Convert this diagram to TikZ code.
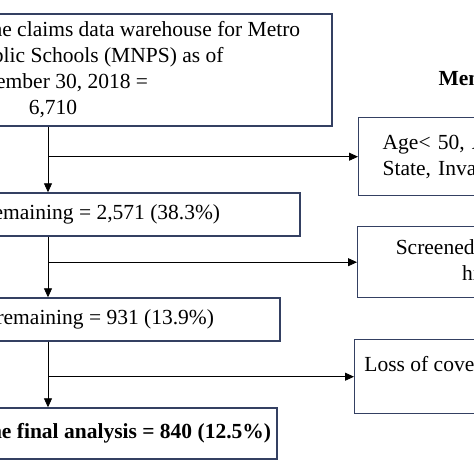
\documentclass[tikz,border=0pt]{standalone}
\usepackage{fontspec}
\setmainfont{Liberation Serif}
\usepackage{tikz}
\usetikzlibrary{arrows.meta, positioning}

\definecolor{boxline}{RGB}{52,64,98}

\tikzset{
    flowbox/.style={draw=boxline, line width=1.4pt, inner sep=0pt, align=center,
        font=\fontsize{21.5}{26}\selectfont},
    flowline/.style={line width=0.8pt, black}
}

\begin{document}
\begin{tikzpicture}[>={Triangle[length=9pt,width=8pt]}, x=1pt, y=-1pt]
    % Cadre de l'image
    \useasboundingbox (0,0) rectangle (474,474);
    \clip (0,0) rectangle (474,474);

    % Colonne principale
    \node[flowbox, minimum width=558pt, minimum height=112pt] (start) at (53,70)
        {Eligible members in the claims data warehouse for Metro\\
         Nashville Public Schools (MNPS) as of\\
         September 30, 2018 =\\
         6,710};
    \node[flowbox, minimum width=480pt, minimum height=43pt] (step1) at (60,214.5)
        {Members remaining = 2,571 (38.3\%)};
    \node[flowbox, minimum width=436pt, minimum height=43pt] (step2) at (62,319.5)
        {Members remaining = 931 (13.9\%)};
    \node[flowbox, minimum width=410pt, minimum height=51pt, font=\fontsize{21.5}{26}\selectfont\bfseries] (final) at (72,433.5)
        {Included in the final analysis = 840 (12.5\%)};

    % Membres exclus
    \node[anchor=base west, font=\fontsize{21.5}{26}\selectfont\bfseries] (exhead) at (435,85)
        {Members excluded};
    \node[flowbox, anchor=north west, align=left, text width=300pt, inner xsep=24pt, minimum height=78pt] (excl1) at (358,117)
        {Age< 50, Age> 64, Out of\\ State, Invalid IDs = 4,139};
    \node[flowbox, anchor=north west, minimum width=340pt, minimum height=71pt] (excl2) at (357,226)
        {Screened for kidney disease or\\ history = 1,640};
    \node[flowbox, anchor=north west, minimum width=318pt, minimum height=74pt] (excl3) at (354,339)
        {Loss of coverage during follow-up\\ = 91};

    % Fleches
    \coordinate (trunk) at (48,0);
    \draw[flowline, ->] (start.south -| trunk) -- (step1.north -| trunk);
    \draw[flowline, ->] (step1.south -| trunk) -- (step2.north -| trunk);
    \draw[flowline, ->] (step2.south -| trunk) -- (final.north -| trunk);
    \draw[flowline, ->] (excl1.west -| trunk) -- (excl1.west);
    \draw[flowline, ->] (excl2.west -| trunk) -- (excl2.west);
    \draw[flowline, ->] (excl3.west -| trunk) -- (excl3.west);
\end{tikzpicture}
\end{document}
